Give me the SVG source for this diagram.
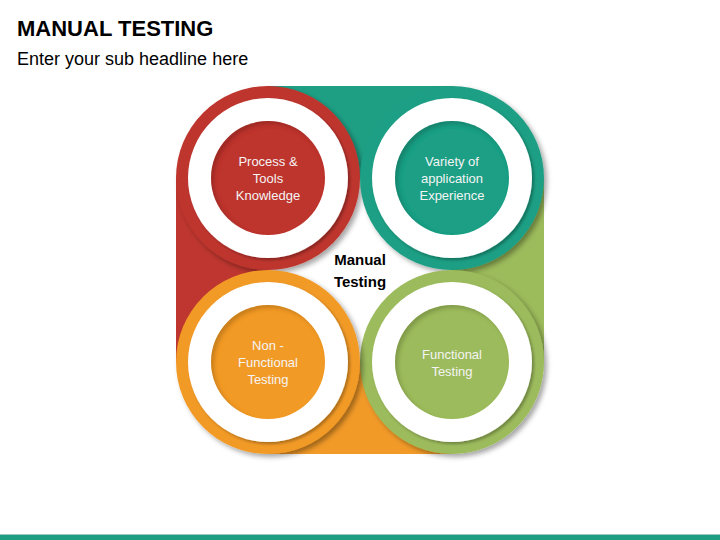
<svg xmlns="http://www.w3.org/2000/svg" width="720" height="540" viewBox="0 0 720 540">
  <defs>
    <style>
      .title { font-family: "Liberation Sans", Arial, sans-serif; font-weight: bold; font-size: 22px; fill: #000; }
      .sub { font-family: "Liberation Sans", Arial, sans-serif; font-size: 18px; fill: #000; }
      .lbl { font-family: "Liberation Sans", Arial, sans-serif; font-size: 13px; fill: #F4F4F4; text-anchor: middle; }
      .center { font-family: "Liberation Sans", Arial, sans-serif; font-weight: bold; font-size: 15px; fill: #000; text-anchor: middle; }
      .red { fill: #BE362F; }
      .teal { fill: #1E9F84; }
      .orange { fill: #F29A28; }
      .green { fill: #9CBB5B; }
      .ring { fill: #FFFFFF; }
    </style>
    <filter id="drop" x="-20%" y="-20%" width="140%" height="140%">
      <feGaussianBlur in="SourceAlpha" stdDeviation="2.5"/>
      <feOffset dx="3" dy="3" result="b"/>
      <feFlood flood-color="#000" flood-opacity="0.35"/>
      <feComposite in2="b" operator="in" result="s"/>
      <feMerge><feMergeNode in="s"/><feMergeNode in="SourceGraphic"/></feMerge>
    </filter>
    <filter id="ringdrop" x="-20%" y="-20%" width="140%" height="140%">
      <feGaussianBlur in="SourceAlpha" stdDeviation="1.5"/>
      <feOffset dx="2" dy="2" result="b"/>
      <feFlood flood-color="#000" flood-opacity="0.3"/>
      <feComposite in2="b" operator="in" result="s"/>
      <feMerge><feMergeNode in="s"/><feMergeNode in="SourceGraphic"/></feMerge>
    </filter>
    <filter id="inner" x="-10%" y="-10%" width="120%" height="120%">
      <feOffset in="SourceAlpha" dx="3" dy="3" result="o"/>
      <feGaussianBlur in="o" stdDeviation="2" result="ob"/>
      <feComposite in="SourceAlpha" in2="ob" operator="out" result="rim"/>
      <feFlood flood-color="#000" flood-opacity="0.35"/>
      <feComposite in2="rim" operator="in" result="sh"/>
      <feMerge><feMergeNode in="SourceGraphic"/><feMergeNode in="sh"/></feMerge>
    </filter>
  </defs>

  <rect x="0" y="0" width="720" height="540" fill="#FFFFFF"/>

  <g id="header">
    <text class="title" x="17" y="36">MANUAL TESTING</text>
    <text class="sub" x="17" y="65">Enter your sub headline here</text>
  </g>

  <g id="tails">
    <rect class="teal" x="268" y="86" width="184" height="92"/>
    <rect class="green" x="452" y="178" width="92" height="184"/>
    <rect class="orange" x="268" y="362" width="184" height="92"/>
    <rect class="red" x="176" y="178" width="92" height="184"/>
  </g>

  <g id="connectors"></g>

  <g id="node-process">
    <circle class="red" cx="268" cy="178" r="92" filter="url(#drop)"/>
    <circle class="ring" cx="268" cy="178" r="80" filter="url(#ringdrop)"/>
    <circle class="red" cx="268" cy="178" r="57" filter="url(#inner)"/>
    <text class="lbl" x="268" y="166">Process &amp;</text>
    <text class="lbl" x="268" y="183">Tools</text>
    <text class="lbl" x="268" y="200">Knowledge</text>
  </g>

  <g id="node-variety">
    <circle class="teal" cx="452" cy="178" r="92" filter="url(#drop)"/>
    <circle class="ring" cx="452" cy="178" r="80" filter="url(#ringdrop)"/>
    <circle class="teal" cx="452" cy="178" r="57" filter="url(#inner)"/>
    <text class="lbl" x="452" y="166">Variety of</text>
    <text class="lbl" x="452" y="183">application</text>
    <text class="lbl" x="452" y="200">Experience</text>
  </g>

  <g id="node-functional">
    <circle class="green" cx="452" cy="362" r="92" filter="url(#drop)"/>
    <circle class="ring" cx="452" cy="362" r="80" filter="url(#ringdrop)"/>
    <circle class="green" cx="452" cy="362" r="57" filter="url(#inner)"/>
    <text class="lbl" x="452" y="359">Functional</text>
    <text class="lbl" x="452" y="376">Testing</text>
  </g>

  <g id="node-nonfunctional">
    <circle class="orange" cx="268" cy="362" r="92" filter="url(#drop)"/>
    <circle class="ring" cx="268" cy="362" r="80" filter="url(#ringdrop)"/>
    <circle class="orange" cx="268" cy="362" r="57" filter="url(#inner)"/>
    <text class="lbl" x="268" y="350">Non -</text>
    <text class="lbl" x="268" y="367">Functional</text>
    <text class="lbl" x="268" y="384">Testing</text>
  </g>

  <g id="node-center">
    <text class="center" x="360" y="265">Manual</text>
    <text class="center" x="360" y="287">Testing</text>
  </g>

  <g id="footer">
    <rect x="0" y="534" width="720" height="1" fill="#9FC9BE"/>
    <rect x="0" y="535" width="720" height="5" fill="#1E9F84"/>
  </g>
</svg>
